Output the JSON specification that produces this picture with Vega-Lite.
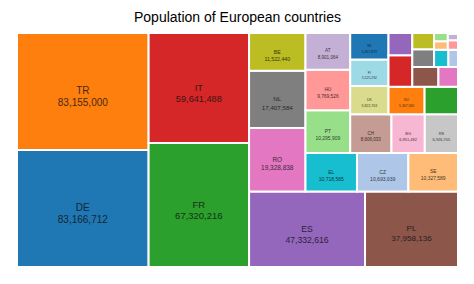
{
  "width": 441,
  "height": 234,
  "autosize": {"type": "none"},
  "padding": {"left": 17, "top": 33, "right": 16, "bottom": 17},
  "title": {"text": "Population of European countries", "font": "Liberation Sans", "fontSize": 14, "fontWeight": "normal", "anchor": "middle", "offset": 7},
  "config": {"view": {"stroke": null}},
  "data": {"values": [
    {"country": "DE", "population": 83166712},
    {"country": "TR", "population": 83155000},
    {"country": "FR", "population": 67320216},
    {"country": "IT", "population": 59641488},
    {"country": "ES", "population": 47332616},
    {"country": "PL", "population": 37958136},
    {"country": "RO", "population": 19328838},
    {"country": "NL", "population": 17407584},
    {"country": "BE", "population": 11522440},
    {"country": "EL", "population": 10718565},
    {"country": "CZ", "population": 10693939},
    {"country": "SE", "population": 10327589},
    {"country": "PT", "population": 10295909},
    {"country": "HU", "population": 9769526},
    {"country": "AT", "population": 8901064},
    {"country": "CH", "population": 8606033},
    {"country": "BG", "population": 6951482},
    {"country": "RS", "population": 6926705},
    {"country": "DK", "population": 5822763},
    {"country": "FI", "population": 5525292},
    {"country": "SK", "population": 5457873},
    {"country": "NO", "population": 5367580},
    {"country": "IE", "population": 4964440},
    {"country": "HR", "population": 4058165},
    {"country": "AL", "population": 2845955},
    {"country": "LT", "population": 2794090},
    {"country": "SI", "population": 2095861},
    {"country": "MK", "population": 2076255},
    {"country": "LV", "population": 1907675},
    {"country": "EE", "population": 1328976},
    {"country": "CY", "population": 888005},
    {"country": "LU", "population": 626108},
    {"country": "ME", "population": 621873},
    {"country": "MT", "population": 514564},
    {"country": "IS", "population": 364134},
    {"country": "LI", "population": 38747}
  ]},
  "transform": [
    {"window": [{"op": "row_number", "as": "rank"}], "sort": [{"field": "population", "order": "descending"}]},
    {"calculate": "datum.rank<=2?1:datum.rank<=4?2:datum.rank<=6?3:datum.rank<=9?4:datum.rank<=12?5:datum.rank<=15?6:datum.rank<=18?7:datum.rank<=21?8:datum.rank<=23?9:datum.rank<=25?10:datum.rank<=27?11:datum.rank<=29?12:datum.rank<=31?13:datum.rank<=33?14:15", "as": "strip"},
    {"calculate": "(datum.strip==3||datum.strip==5||datum.strip==7||datum.strip==9||datum.strip==11||datum.strip==13) ? 0 : 1", "as": "vert"},
    {"joinaggregate": [{"op": "sum", "field": "population", "as": "stripSum"}], "groupby": ["strip"]},
    {"joinaggregate": [{"op": "sum", "field": "population", "as": "total"}]},
    {"window": [{"op": "sum", "field": "population", "as": "cumAll"}], "sort": [{"field": "rank", "order": "ascending"}]},
    {"window": [{"op": "sum", "field": "population", "as": "cumIn"}], "groupby": ["strip"], "sort": [{"field": "rank", "order": "ascending"}]},
    {"calculate": "datum.total - datum.cumAll + datum.cumIn", "as": "remBefore"},
    {"calculate": "datum.remBefore - datum.stripSum", "as": "remAfter"},
    {"calculate": "(datum.cumIn >= datum.stripSum && datum.vert == 1 && datum.remAfter > 0) ? datum.remAfter / datum.remBefore : 1", "as": "fv"},
    {"calculate": "(datum.cumIn >= datum.stripSum && datum.vert == 0 && datum.remAfter > 0) ? datum.remAfter / datum.remBefore : 1", "as": "fh"},
    {"window": [{"op": "product", "field": "fv", "as": "pv"}, {"op": "product", "field": "fh", "as": "ph"}], "sort": [{"field": "rank", "order": "ascending"}]},
    {"calculate": "datum.pv / datum.fv", "as": "wRem"},
    {"calculate": "datum.ph / datum.fh", "as": "hRem"},
    {"calculate": "datum.vert == 1 ? 1 - datum.wRem : 1 - datum.wRem + datum.wRem * (datum.cumIn - datum.population) / datum.stripSum", "as": "xa"},
    {"calculate": "datum.vert == 1 ? 1 - datum.wRem + datum.wRem * datum.stripSum / datum.remBefore : 1 - datum.wRem + datum.wRem * datum.cumIn / datum.stripSum", "as": "xb"},
    {"calculate": "datum.vert == 1 ? 1 - datum.hRem + datum.hRem * (datum.cumIn - datum.population) / datum.stripSum : 1 - datum.hRem", "as": "ya"},
    {"calculate": "datum.vert == 1 ? 1 - datum.hRem + datum.hRem * datum.cumIn / datum.stripSum : 1 - datum.hRem + datum.hRem * datum.stripSum / datum.remBefore", "as": "yb"},
    {"calculate": "(datum.xa + datum.xb) / 2", "as": "xc"},
    {"calculate": "(datum.ya + datum.yb) / 2", "as": "yc"},
    {"calculate": "[datum.country, format(datum.population, ',')]", "as": "label"}
  ],
  "layer": [
    {
      "mark": {"type": "rect", "stroke": "white", "strokeWidth": 2},
      "encoding": {
        "x": {"field": "xa", "type": "quantitative", "scale": {"domain": [0, 1], "nice": false, "zero": false}, "axis": null},
        "x2": {"field": "xb"},
        "y": {"field": "ya", "type": "quantitative", "scale": {"domain": [0, 1], "nice": false, "zero": false}, "axis": null},
        "y2": {"field": "yb"},
        "color": {"field": "rank", "type": "ordinal", "legend": null, "scale": {"range": ["#1f77b4","#ff7f0e","#2ca02c","#d62728","#9467bd","#8c564b","#e377c2","#7f7f7f","#bcbd22","#17becf","#aec7e8","#ffbb78","#98df8a","#ff9896","#c5b0d5","#c49c94","#f7b6d2","#c7c7c7","#dbdb8d","#9edae5"]}}
      }
    },
    {
      "transform": [{"filter": "datum.population >= 5000000"}],
      "mark": {"type": "text", "font": "Liberation Sans", "align": "center", "baseline": "middle", "color": "#111", "opacity": 0.8},
      "encoding": {
        "x": {"field": "xc", "type": "quantitative"},
        "y": {"field": "yc", "type": "quantitative"},
        "text": {"field": "label"},
        "size": {"field": "population", "type": "quantitative", "legend": null, "scale": {"type": "log", "domain": [5000000, 83000000], "range": [3.2, 10], "clamp": true}}
      }
    }
  ]
}
